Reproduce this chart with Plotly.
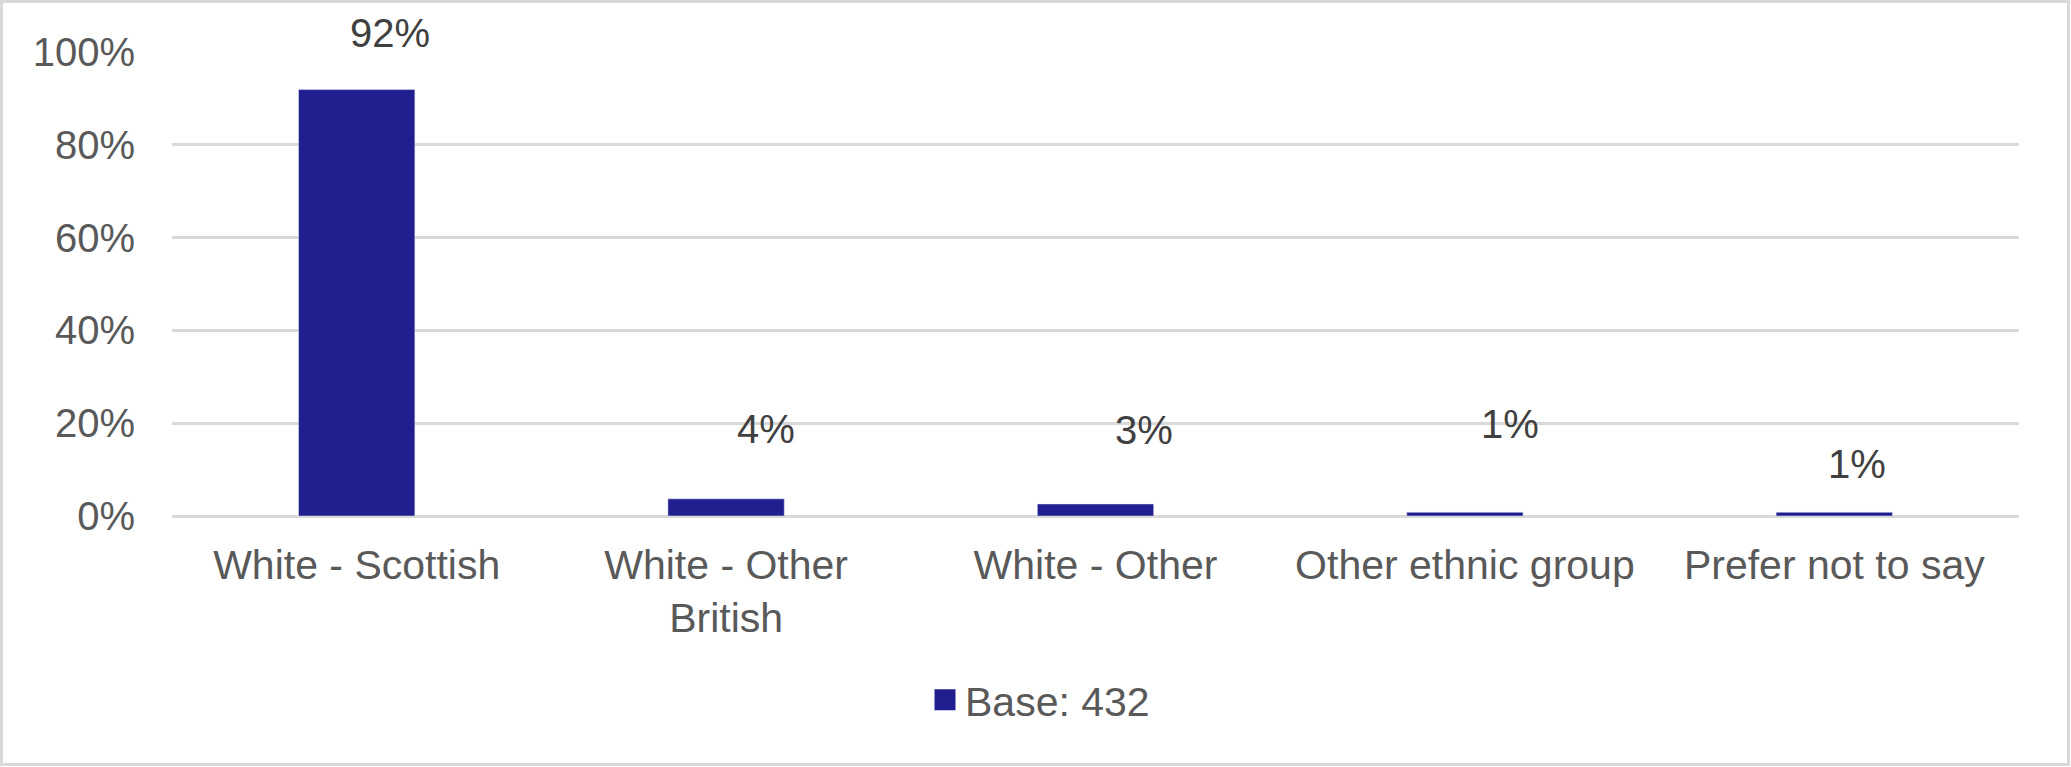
import plotly.graph_objects as go

categories = ["White - Scottish", "White - Other<br>British", "White - Other",
              "Other ethnic group", "Prefer not to say"]
values = [0.919, 0.037, 0.026, 0.008, 0.008]
series_name = "Base: 432"
y_ticks = [0, 0.2, 0.4, 0.6, 0.8, 1.0]
y_tick_labels = ["0%", "20%", "40%", "60%", "80%", "100%"]

# label placement (style): pixel shifts relative to bar top
label_xshift = [33, 40, 48, 45, 23]
label_yshift = [57, 70, 74, 88, 48]

W, H = 2071, 767
ML, MR, MT, MB = 172, 52, 52, 251
PW, PH = W - ML - MR, H - MT - MB

FONT = "Liberation Sans, Arial, sans-serif"
BAR = "#211F8F"
GRID = "#D9D9D9"

fig = go.Figure()
fig.add_trace(go.Bar(x=categories, y=values, marker_color=BAR, showlegend=False,
                     width=0.315))
# legend entry
fig.add_trace(go.Scatter(x=[None], y=[None], mode="markers", name=series_name,
                         marker=dict(symbol="square", size=16, color=BAR,
                                     line=dict(color=BAR, width=5))))

for c, v, dx, dy in zip(categories, values, label_xshift, label_yshift):
    fig.add_annotation(x=c, y=v, text=f"{round(v * 100)}%", showarrow=False,
                       xshift=dx, yshift=dy, yanchor="middle", xanchor="center",
                       font=dict(family=FONT, size=40, color="#404040"))

# outer border
def px_x(p):
    return (p - ML) / PW

def px_y(p):
    return (H - MB - p) / PH

fig.add_shape(type="rect", xref="paper", yref="paper",
              x0=px_x(1.5), x1=px_x(W - 2.5), y0=px_y(1.5), y1=px_y(H - 2.5),
              line=dict(color=GRID, width=3), fillcolor="rgba(0,0,0,0)", layer="below")

fig.update_layout(
    width=W, height=H,
    margin=dict(l=ML, r=MR, t=MT, b=MB, pad=0),
    paper_bgcolor="white", plot_bgcolor="white",
    font=dict(family=FONT, size=40, color="#595959"),
    bargap=0.685,
    showlegend=True,
    legend=dict(orientation="h", x=px_x(925), xanchor="left",
                y=px_y(700), yanchor="middle",
                font=dict(family=FONT, size=41, color="#595959"),
                bgcolor="rgba(0,0,0,0)"),
    xaxis=dict(showgrid=False, showline=False, zeroline=False, ticks="",
               ticklabelstandoff=21,
               tickfont=dict(family=FONT, size=41, color="#595959")),
    yaxis=dict(range=[0, 1], tickvals=y_ticks, ticktext=y_tick_labels,
               showgrid=True, gridcolor=GRID, gridwidth=2.5,
               zeroline=True, zerolinecolor=GRID, zerolinewidth=2.5,
               showline=False, ticks="", ticklabelstandoff=36,
               tickfont=dict(family=FONT, size=40, color="#595959")),
)

fig.write_html("out.html",
               config={"displayModeBar": False},
               post_script="document.body.style.margin='0';"
                           "document.body.style.overflow='hidden';")
